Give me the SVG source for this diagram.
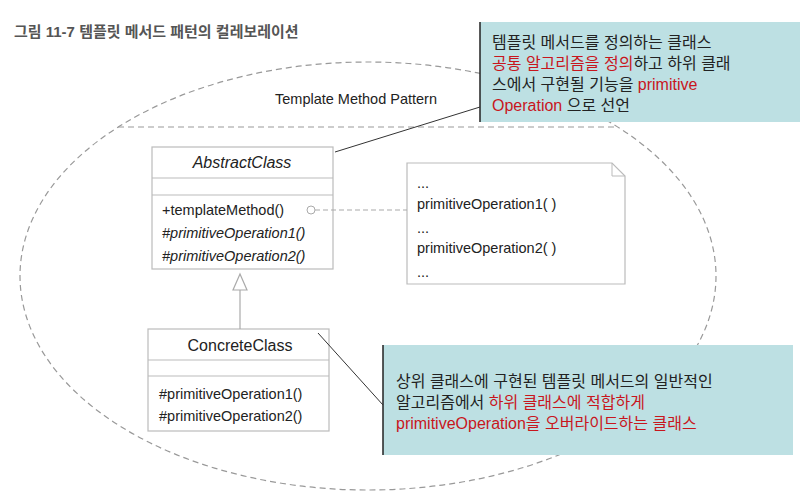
<svg xmlns="http://www.w3.org/2000/svg" width="800" height="501" viewBox="0 0 800 501">
<style>
text{font-family:"Liberation Sans","Noto Sans CJK KR",sans-serif;fill:#222}
.box{fill:#fff;stroke:#bbb;stroke-width:1.2}
.sep{stroke:#bbb;stroke-width:1}
.m{font-size:14.5px}
.i{font-style:italic}
.call{fill:#bde0e3}
.k{font-size:16px}
.r{fill:#c8161d}
.dash{fill:none;stroke:#999;stroke-width:1.2;stroke-dasharray:6 4}
</style>
<rect width="800" height="501" fill="#fff"/>
<text x="14" y="37" font-size="15" font-weight="bold" style="fill:#555">그림 11-7 템플릿 메서드 패턴의 컬레보레이션</text>
<g id="pattern">
<ellipse class="dash" cx="368" cy="276" rx="348" ry="214"/>
<line class="dash" x1="118" y1="127" x2="615" y2="127"/>
<text x="275" y="104" font-size="14.5">Template Method Pattern</text>
</g>
<g id="abstract">
<rect class="box" x="152" y="147" width="181" height="122"/>
<line class="sep" x1="152" y1="178" x2="333" y2="178"/>
<line class="sep" x1="152" y1="195" x2="333" y2="195"/>
<text x="242" y="168" class="i" text-anchor="middle" font-size="16">AbstractClass</text>
<text x="162" y="215" class="m">+templateMethod()</text>
<text x="162" y="238" class="m i">#primitiveOperation1()</text>
<text x="162" y="261" class="m i">#primitiveOperation2()</text>
</g>
<g id="note">
<path class="box" d="M407 163 H612 L625 176 V284 H407 Z"/>
<path d="M612 163 V176 H625" fill="none" stroke="#bbb"/>
<text x="417" y="188" class="m">...</text>
<text x="417" y="209" class="m">primitiveOperation1( )</text>
<text x="417" y="233" class="m">...</text>
<text x="417" y="253" class="m">primitiveOperation2( )</text>
<text x="417" y="277" class="m">...</text>
</g>
<g id="concrete">
<rect class="box" x="148" y="329" width="181" height="102"/>
<line class="sep" x1="148" y1="360" x2="329" y2="360"/>
<line class="sep" x1="148" y1="376" x2="329" y2="376"/>
<text x="240" y="351" text-anchor="middle" font-size="16">ConcreteClass</text>
<text x="159" y="399" class="m">#primitiveOperation1()</text>
<text x="159" y="421" class="m">#primitiveOperation2()</text>
</g>
<g id="callout1">
<rect class="call" x="480" y="22" width="320" height="100"/>
<line x1="480" y1="22" x2="480" y2="122" stroke="#222" stroke-width="1.5"/>
<text x="492" y="48" class="k">템플릿 메서드를 정의하는 클래스</text>
<text x="492" y="69" class="k"><tspan class="r">공통 알고리즘을 정의</tspan>하고 하위 클래</text>
<text x="492" y="90" class="k">스에서 구현될 기능을 <tspan class="r">primitive</tspan></text>
<text x="492" y="111" class="k"><tspan class="r">Operation</tspan> 으로 선언</text>
</g>
<g id="callout2">
<rect class="call" x="383" y="345" width="410" height="110"/>
<line x1="383" y1="345" x2="383" y2="455" stroke="#222" stroke-width="1.5"/>
<text x="396" y="387" class="k">상위 클래스에 구현된 템플릿 메서드의 일반적인</text>
<text x="396" y="408" class="k">알고리즘에서 <tspan class="r">하위 클래스에 적합하게</tspan></text>
<text x="396" y="429" class="k r">primitiveOperation을 오버라이드하는 클래스</text>
</g>
<g id="connectors">
<line x1="335" y1="152" x2="480" y2="107" stroke="#333" stroke-width="1"/>
<line x1="318" y1="333" x2="383" y2="405" stroke="#333" stroke-width="1"/>
<line x1="315" y1="210" x2="407" y2="210" stroke="#aaa" stroke-width="1.2" stroke-dasharray="5 3"/>
<circle cx="311" cy="210" r="4" fill="#fff" stroke="#aaa"/>
<line x1="240" y1="329" x2="240" y2="290" stroke="#aaa" stroke-width="1.2"/>
<path d="M240 274 L233 290 L247 290 Z" fill="#fff" stroke="#aaa" stroke-width="1.2"/>
</g>
</svg>
